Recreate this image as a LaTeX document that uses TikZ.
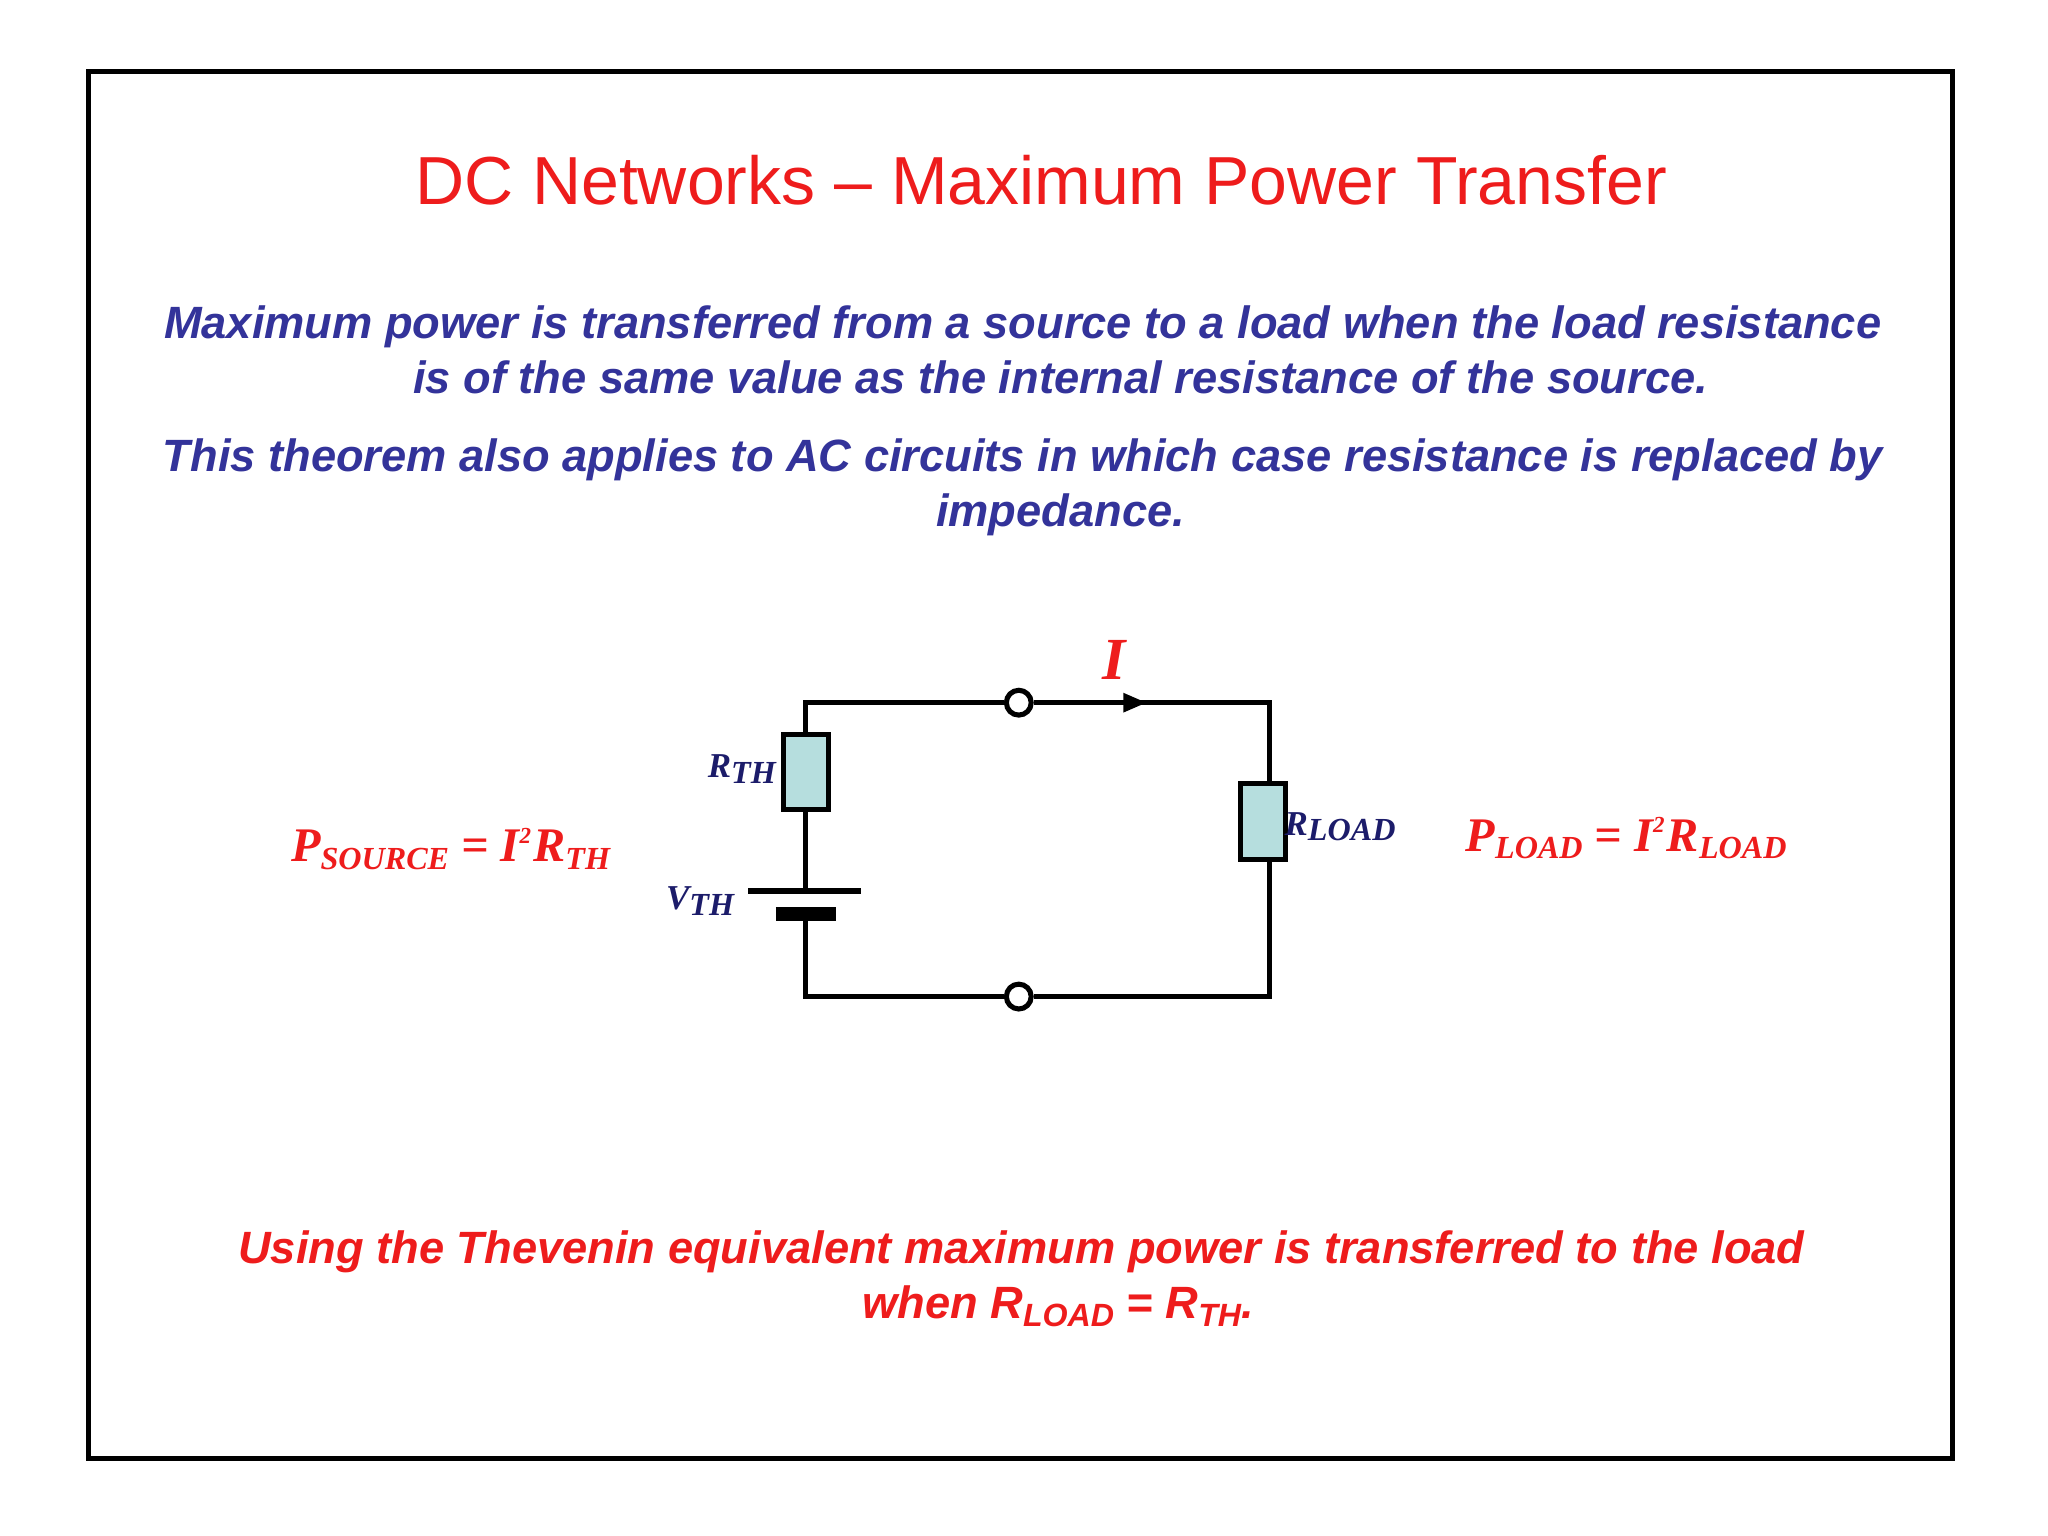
\documentclass[tikz,border=0pt]{standalone}
\usepackage{fontspec}
\setmainfont{Liberation Serif}
\newfontfamily\sansf{Liberation Sans}
\usetikzlibrary{arrows.meta,decorations.markings}
\definecolor{tred}{HTML}{EE1C1C}
\definecolor{tblue}{HTML}{33339A}
\definecolor{navy}{HTML}{1C1C6A}
\definecolor{resfill}{HTML}{B6DEDE}
\newcommand{\lsub}[1]{\raisebox{-0.35ex}{\scriptsize #1}}
\begin{document}
\begin{tikzpicture}[x=0.01cm,y=-0.01cm,
  wire/.style={line width=1.1pt,black},
  res/.style={draw=black,line width=1.1pt,fill=resfill},
  term/.style={circle,draw=black,line width=1.1pt,fill=white,minimum size=0.19cm,inner sep=0pt},
  body/.style={font=\sansf\bfseries\itshape\fontsize{9.85}{11.95}\selectfont,align=center},
  lab/.style={font=\bfseries\itshape\fontsize{7.6}{10}\selectfont,text=navy,inner sep=0pt},
  form/.style={font=\bfseries\itshape\fontsize{10.5}{12}\selectfont,text=tred,inner sep=0pt}]
\useasboundingbox (0,0) rectangle (1568,1176);
\fill[white] (0,0) rectangle (1568,1176);
\draw[line width=1.1pt] (68,55) rectangle (1495,1117);
\node[font=\sansf\fontsize{14.8}{18}\selectfont,text=tred] (title) at (797,138) {DC Networks – Maximum Power Transfer};
\node[body,text=tblue] (p1) at (783,268) {Maximum power is transferred from a source to a load when the load resistance\\ \hspace*{0.58cm}is of the same value as the internal resistance of the source.};
\node[body,text=tblue] (p2) at (783,373) {This theorem also applies to AC circuits in which case resistance is replaced by\\ \hspace*{0.58cm}impedance.};
\node[body,text=tred] (p3) at (782,979) {Using the Thevenin equivalent maximum power is transferred to the load\\ \hspace*{0.56cm}when R\lsub{LOAD} = R\lsub{TH}.};
% circuit
\coordinate (tl) at (617,538); \coordinate (tr) at (972,538);
\coordinate (bl) at (617,763); \coordinate (br) at (972,763);
\node[term] (t1) at (780,538) {};
\node[term] (t2) at (780,763) {};
\node[res,minimum width=0.34cm,minimum height=0.57cm,inner sep=0pt] (rth) at (617,591) {};
\node[res,minimum width=0.34cm,minimum height=0.58cm,inner sep=0pt] (rl) at (967,629) {};
\coordinate (plL) at (617,682); \coordinate (plS) at (617,700);
\draw[wire] (rth.north) -- (tl) -- (t1);
\draw[wire] (t1) -- (tr) -- (972,600);
\draw[wire,-{Triangle[length=0.18cm,width=0.14cm]}] (t1) -- (878,538);
\draw[wire] (972,658) -- (br) -- (t2) -- (bl) -- (plS);
\draw[wire] (rth.south) -- (plL);
\draw[line width=1.3pt] (573,682) -- (659,682);
\draw[line width=3pt] (594,700) -- (640,700);
\node[font=\bfseries\itshape\fontsize{13}{16}\selectfont,text=tred] (I) at (853,505) {I};
\node[lab] (lrth) at (568,589) {R\lsub{TH}};
\node[lab] (lvth) at (536,690) {V\lsub{TH}};
\node[lab] (lrl) at (1026,633) {R\lsub{LOAD}};
\node[form] (ps) at (345,650) {P\lsub{SOURCE} = I\textsuperscript{\tiny 2}R\lsub{TH}};
\node[form] (pl) at (1245,642) {P\lsub{LOAD} = I\textsuperscript{\tiny 2}R\lsub{LOAD}};
\end{tikzpicture}
\end{document}
